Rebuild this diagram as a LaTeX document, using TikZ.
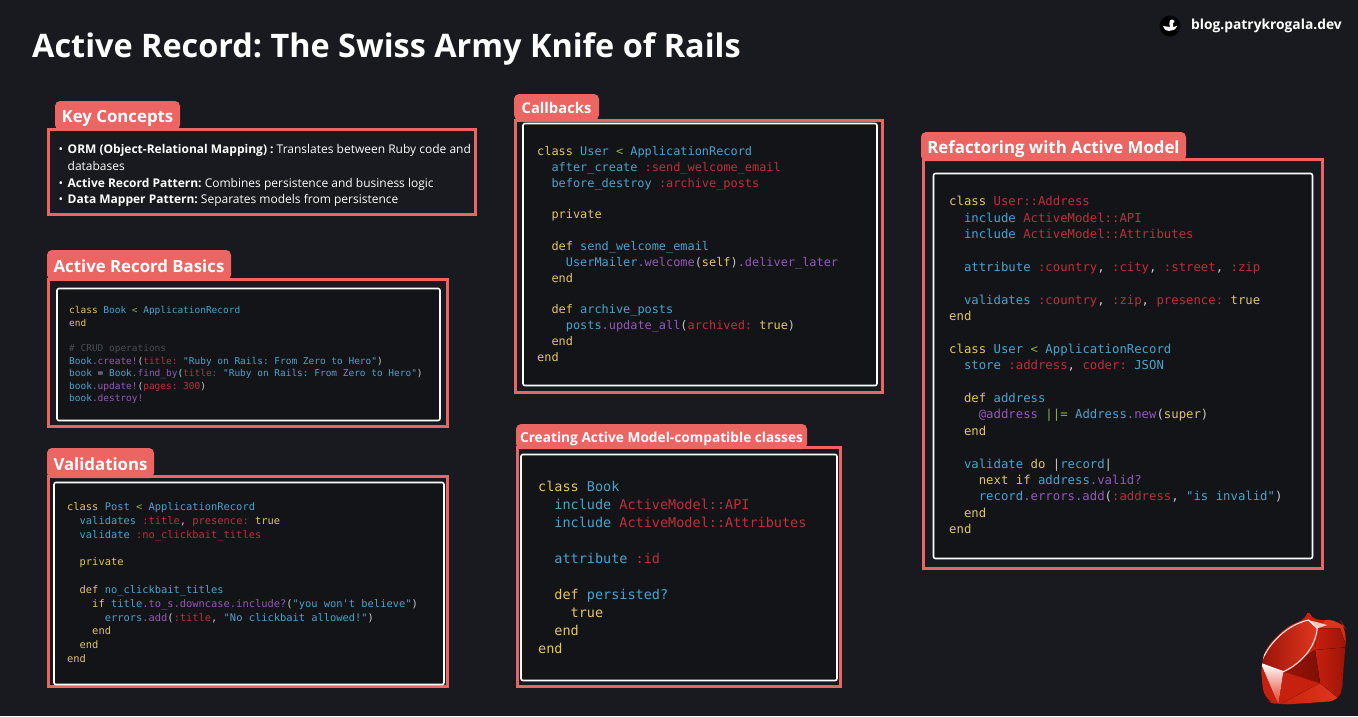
\documentclass[tikz,border=0pt]{standalone}
\usepackage{fontspec}
\setmainfont{Open Sans}
\newfontfamily\codefont{DejaVu Sans Mono}
\frenchspacing
\definecolor{bgdark}{HTML}{191A20}
\definecolor{codebg}{HTML}{131418}
\definecolor{accent}{HTML}{EB6563}
\definecolor{plainc}{HTML}{C4C8CC}
\definecolor{kwc}{HTML}{E3C567}
\definecolor{cnc}{HTML}{4BA3CC}
\definecolor{syc}{HTML}{BC303B}
\definecolor{mec}{HTML}{9459B5}
\definecolor{opc}{HTML}{8DB04C}
\definecolor{cmc}{HTML}{474C52}
\definecolor{rubya}{HTML}{C8200E}
\definecolor{rubyb}{HTML}{9A1408}
\definecolor{rubyc}{HTML}{E2371F}
\definecolor{rubyd}{HTML}{7E0F06}
\newcommand{\ckw}[1]{\textcolor{kwc}{#1}}
\newcommand{\ccn}[1]{\textcolor{cnc}{#1}}
\newcommand{\csy}[1]{\textcolor{syc}{#1}}
\newcommand{\cme}[1]{\textcolor{mec}{#1}}
\newcommand{\cop}[1]{\textcolor{opc}{#1}}
\newcommand{\ccm}[1]{\textcolor{cmc}{#1}}
\newcommand{\blankln}{\mbox{}\\}
\newcommand{\bulletitem}{\llap{\textbullet\hspace{4.5pt}}}
\tikzset{
  redbox/.style={draw=accent,line width=3pt,anchor=north west,inner sep=0pt,outer sep=0pt},
  codebox/.style={draw=white,fill=codebg,line width=1.6pt,rounded corners=2pt,anchor=north west,inner sep=0pt,outer sep=0pt},
  tabbox/.style={fill=accent,rounded corners=5pt,text=white,anchor=north west,inner sep=0pt,outer sep=0pt,align=center,text height=14pt,text depth=0pt},
  bigtab/.style={tabbox,font=\fontsize{16.8}{20}\selectfont\bfseries},
  codetext/.style={anchor=north west,inner sep=0pt,align=left,text=plainc}
}
\begin{document}
\begin{tikzpicture}[x=1pt,y=-1pt]
\useasboundingbox[fill=bgdark] (0,0) rectangle (1358,716);

\node[anchor=west,inner sep=0pt,text=white,font=\fontsize{32.4}{38}\selectfont\bfseries] (title) at (32,49) {Active Record: The Swiss Army Knife of Rails};

\node[fill=black,circle,minimum size=21pt,inner sep=0pt] (duckdisc) at (1170,26) {};
\fill[white] (1163,26) .. controls (1163,32) and (1175,33) .. (1177,26) -- (1173,27) -- (1173,23) .. controls (1176,22) and (1174,19) .. (1172,19.5) .. controls (1169,20) and (1169,23) .. (1170,27) -- cycle;
\node[anchor=west,inner sep=0pt,text=white,font=\fontsize{13.8}{17}\selectfont\bfseries] (blog) at (1191,26) {blog.patrykrogala.dev};

\node[redbox,minimum width=427pt,minimum height=85pt] (keybox) at (48.5,129.5) {};
\node[bigtab,minimum width=125pt,minimum height=29pt] (keytab) at (55,101) {Key Concepts};
\node[anchor=north west,inner sep=0pt,align=left,text=white,font=\fontsize{12}{16.6}\selectfont] (keytext) at (67.5,144.5) {\bulletitem\textbf{ORM (Object-Relational Mapping) :} Translates between Ruby code and\\
databases\\
\bulletitem\textbf{Active Record Pattern:} Combines persistence and business logic\\
\bulletitem\textbf{Data Mapper Pattern:} Separates models from persistence};

\node[redbox,minimum width=399pt,minimum height=147pt] (basicsbox) at (48.5,279.5) {};
\node[codebox,minimum width=383pt,minimum height=132pt] (basicscode) at (57,288.5) {};
\node[bigtab,minimum width=184pt,minimum height=30pt] (basicstab) at (47,250) {Active Record Basics};
\node[codetext,font=\codefont\fontsize{9.47}{12.55}\selectfont] (basicstext) at (69,306.5) {\ckw{class} \ccn{Book} \cop{<} \ccn{ApplicationRecord}\\
\ckw{end}\\
\blankln
\ccm{\# CRUD operations}\\
\ccn{Book}\cme{.create!}(\csy{title:} \ccn{"Ruby on Rails: From Zero to Hero"})\\
\ccn{book} = \ccn{Book}\cme{.find\_by}(\csy{title:} \ccn{"Ruby on Rails: From Zero to Hero"})\\
\ccn{book}\cme{.update!}(\csy{pages: 300})\\
\ccn{book}\cme{.destroy!}};

\node[redbox,minimum width=399pt,minimum height=210pt] (validbox) at (48.5,476.5) {};
\node[codebox,minimum width=390pt,minimum height=202pt] (validcode) at (54,482.5) {};
\node[bigtab,minimum width=107pt,minimum height=30pt] (validtab) at (47,448) {Validations};
\node[codetext,font=\codefont\fontsize{10.4}{13.8}\selectfont] (validtext) at (67,502.5) {\ckw{class} \ccn{Post} \cop{<} \ccn{ApplicationRecord}\\
\ \ \ccn{validates} \csy{:title}, \csy{presence:} \ckw{true}\\
\ \ \ccn{validate} \csy{:no\_clickbait\_titles}\\
\blankln
\ \ \ckw{private}\\
\blankln
\ \ \ckw{def} \ccn{no\_clickbait\_titles}\\
\ \ \ \ \ckw{if} \ccn{title}\cme{.to\_s.downcase.include?}(\ccn{"you won't believe"})\\
\ \ \ \ \ \ \ccn{errors}\cme{.add}(\csy{:title}, \ccn{"No clickbait allowed!"})\\
\ \ \ \ \ckw{end}\\
\ \ \ckw{end}\\
\ckw{end}};

\node[redbox,minimum width=367pt,minimum height=272pt] (callbox) at (515.5,120.5) {};
\node[codebox,minimum width=354pt,minimum height=262pt] (callcode) at (523,123.5) {};
\node[tabbox,minimum width=85pt,minimum height=26pt,text height=13pt,font=\fontsize{14.8}{18}\selectfont\bfseries] (calltab) at (514,94) {Callbacks};
\node[codetext,font=\codefont\fontsize{11.9}{15.85}\selectfont] (calltext) at (537,146) {\ckw{class} \ccn{User} \cop{<} \ccn{ApplicationRecord}\\
\ \ \ccn{after\_create} \csy{:send\_welcome\_email}\\
\ \ \ccn{before\_destroy} \csy{:archive\_posts}\\
\blankln
\ \ \ckw{private}\\
\blankln
\ \ \ckw{def} \ccn{send\_welcome\_email}\\
\ \ \ \ \ccn{UserMailer}\cme{.welcome}(\ckw{self})\cme{.deliver\_later}\\
\ \ \ckw{end}\\
\blankln
\ \ \ckw{def} \ccn{archive\_posts}\\
\ \ \ \ \ccn{posts}\cme{.update\_all}(\csy{archived:} \ckw{true})\\
\ \ \ckw{end}\\
\ckw{end}};

\node[redbox,minimum width=323pt,minimum height=239pt] (modelbox) at (517.5,447.5) {};
\node[codebox,minimum width=316pt,minimum height=226pt] (modelcode) at (521,454.5) {};
\node[tabbox,minimum width=291pt,minimum height=25pt,text height=12pt,font=\fontsize{13.7}{17}\selectfont\bfseries] (modeltab) at (516,424) {Creating Active Model-compatible classes};
\node[codetext,font=\codefont\fontsize{13.5}{18}\selectfont] (modeltext) at (538,480.5) {\ckw{class} \ccn{Book}\\
\ \ \ccn{include} \csy{ActiveModel::API}\\
\ \ \ccn{include} \csy{ActiveModel::Attributes}\\
\blankln
\ \ \ccn{attribute} \csy{:id}\\
\blankln
\ \ \ckw{def} \ccn{persisted?}\\
\ \ \ \ \ckw{true}\\
\ \ \ckw{end}\\
\ckw{end}};

\node[redbox,minimum width=399pt,minimum height=409pt] (refbox) at (923.5,159.5) {};
\node[codebox,minimum width=379pt,minimum height=385pt] (refcode) at (933.5,173.5) {};
\node[bigtab,minimum width=265pt,minimum height=29pt] (reftab) at (921,132) {Refactoring with Active Model};
\node[codetext,font=\codefont\fontsize{12.3}{16.4}\selectfont] (reftext) at (949,196) {\ckw{class} \csy{User::Address}\\
\ \ \ccn{include} \csy{ActiveModel::API}\\
\ \ \ccn{include} \csy{ActiveModel::Attributes}\\
\blankln
\ \ \ccn{attribute} \csy{:country}, \csy{:city}, \csy{:street}, \csy{:zip}\\
\blankln
\ \ \ccn{validates} \csy{:country}, \csy{:zip}, \csy{presence:} \ckw{true}\\
\ckw{end}\\
\blankln
\ckw{class} \ccn{User} \cop{<} \ccn{ApplicationRecord}\\
\ \ \ccn{store} \csy{:address}, \csy{coder:} \ccn{JSON}\\
\blankln
\ \ \ckw{def} \ccn{address}\\
\ \ \ \ \cme{@address} \cop{||=} \ccn{Address}\cme{.new}(\ckw{super})\\
\ \ \ckw{end}\\
\blankln
\ \ \ccn{validate} \ckw{do} |\ccn{record}|\\
\ \ \ \ \ckw{next} \ckw{if} \ccn{address}\cme{.valid?}\\
\ \ \ \ \ccn{record}\cme{.errors.add}(\csy{:address}, \ccn{"is invalid"})\\
\ \ \ckw{end}\\
\ckw{end}};

\begin{scope}[shift={(1240,600)},x=0.3333pt,y=-0.3333pt]
\begin{scope}
\clip[rounded corners=12pt] (205,60) -- (300,60) -- (320,90) -- (303,302) -- (115,315) -- (72,300) -- (62,190) .. controls (85,130) and (140,75) .. (205,60) -- cycle;
\fill[rubya] (40,40) rectangle (340,340);
\fill[top color=rubyc,bottom color=rubya] (232,85) -- (260,55) -- (330,55) -- (325,140) -- (225,150) -- cycle;
\fill[left color=rubya,right color=rubyb] (232,85) -- (300,85) -- (320,142) -- (225,150) -- cycle;
\fill[left color=rubya,right color=rubyb] (225,150) -- (320,142) -- (303,302) -- (240,250) -- cycle;
\fill[left color=rubyb,right color=rubyd] (210,160) -- (130,215) -- (240,250) -- (225,150) -- cycle;
\fill[rubya] (130,215) -- (115,315) -- (240,250) -- cycle;
\fill[left color=rubya,right color=rubyc] (115,315) -- (303,302) -- (240,250) -- cycle;
\fill[top color=white,middle color=rubyc,bottom color=rubyc] (62,190) -- (130,215) -- (115,315) -- cycle;
\fill[rubya] (62,190) -- (115,315) -- (60,320) -- cycle;
\fill[left color=rubyb,right color=rubyc] (205,60) .. controls (140,75) and (85,130) .. (65,188) -- (130,215) .. controls (175,195) and (225,150) .. (232,85) -- cycle;
\fill[white,opacity=0.75] (205,60) -- (262,75) -- (232,85) -- cycle;
\draw[white,line width=1.1pt,opacity=0.9] (62,190) -- (130,215) .. controls (175,195) and (225,150) .. (232,85) -- (205,60) .. controls (140,75) and (85,130) .. (62,190);
\end{scope}
\end{scope}
\end{tikzpicture}
\end{document}
